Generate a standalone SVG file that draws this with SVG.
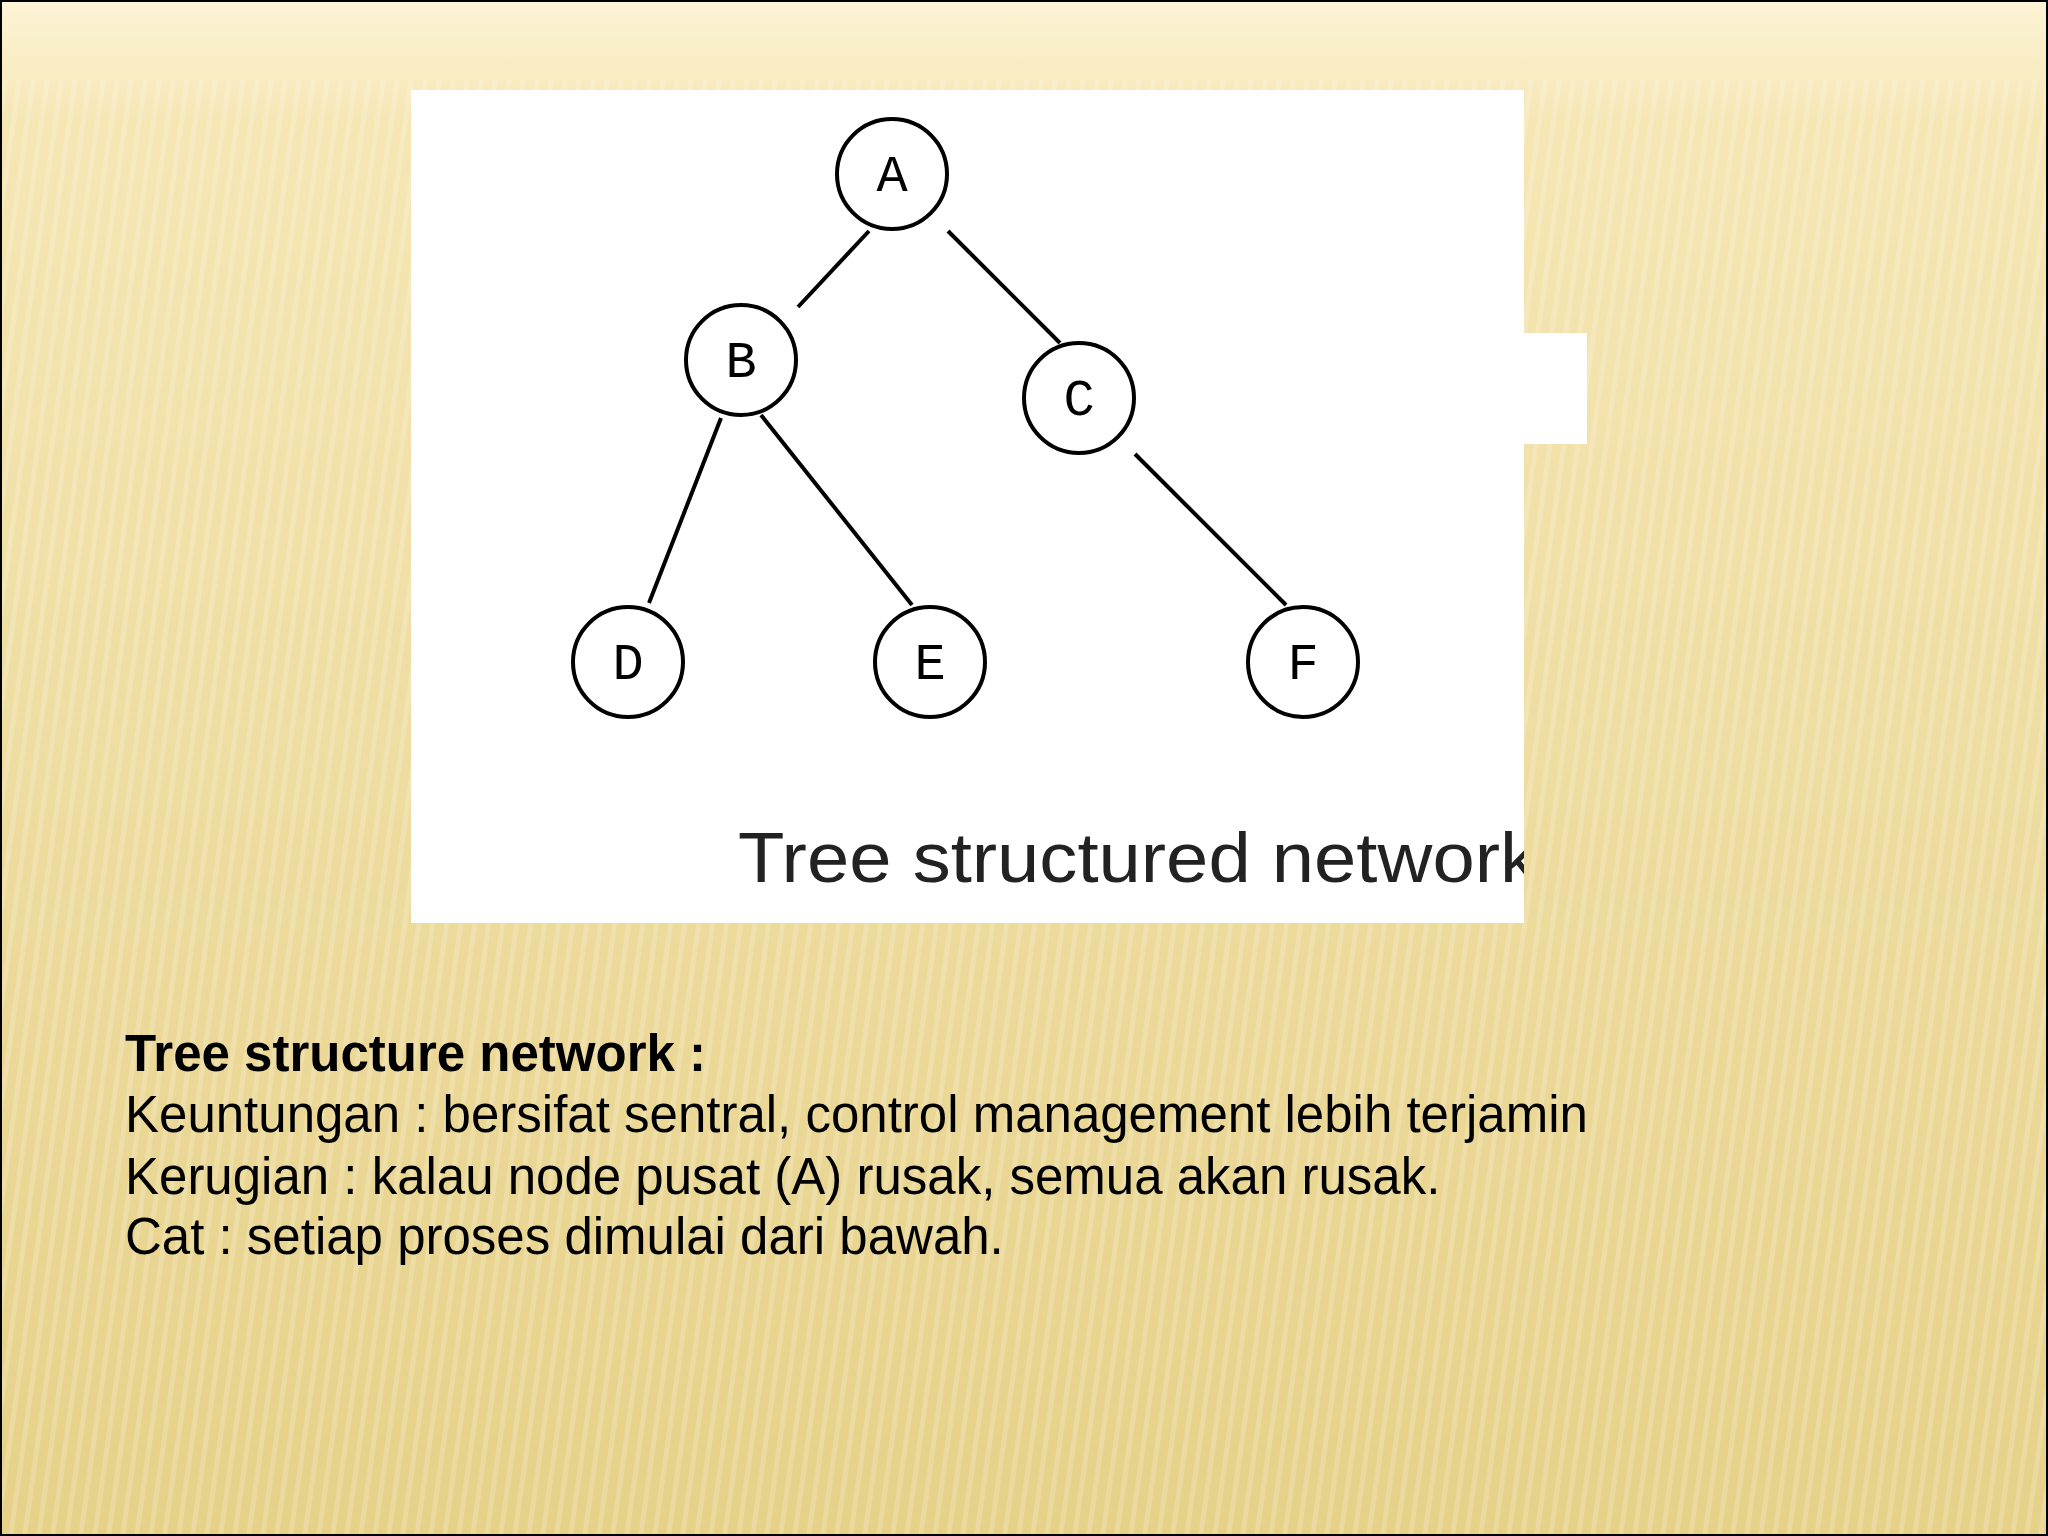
<svg xmlns="http://www.w3.org/2000/svg" width="2048" height="1536" viewBox="0 0 2048 1536">
<defs>
<linearGradient id="bg" x1="0" y1="0" x2="0" y2="1">
<stop offset="0" stop-color="#fdf4d6"/>
<stop offset="0.08" stop-color="#f5e6b4"/>
<stop offset="1" stop-color="#e6d189"/>
</linearGradient>
<pattern id="st" width="14" height="1536" patternUnits="userSpaceOnUse" patternTransform="skewX(-8)">
<rect x="0" y="0" width="5" height="1536" fill="#ffffff" opacity="0.18"/>
</pattern>
<clipPath id="box"><rect x="411" y="90" width="1113" height="833"/></clipPath>
<style>
.n circle{fill:#fff;stroke:#000;stroke-width:4}
.n text{font-family:"Liberation Mono",monospace;font-size:52px;text-anchor:middle;fill:#000}
.e line{stroke:#000;stroke-width:4}
.t{font-family:"Liberation Sans",Arial,sans-serif;font-size:51px;fill:#000}
</style>
</defs>
<rect width="2048" height="1536" fill="url(#bg)"/>
<rect y="80" width="2048" height="1456" fill="url(#st)"/>
<rect x="1" y="1" width="2046" height="1534" fill="none" stroke="#000" stroke-width="2"/>
<rect x="411" y="90" width="1113" height="833" fill="#fff"/>
<rect x="1520" y="333" width="67" height="111" fill="#fff"/>
<g class="e" id="connectors">
<line x1="869" y1="231" x2="798" y2="307"/>
<line x1="948" y1="231" x2="1060" y2="343"/>
<line x1="721" y1="418" x2="649" y2="603"/>
<line x1="761" y1="415" x2="912" y2="605"/>
<line x1="1135" y1="454" x2="1286" y2="605"/>
</g>
<g class="n" id="A"><circle cx="892" cy="174" r="55"/><text x="892" y="191">A</text></g>
<g class="n" id="B"><circle cx="741" cy="360" r="55"/><text x="741" y="377">B</text></g>
<g class="n" id="C"><circle cx="1079" cy="398" r="55"/><text x="1079" y="415">C</text></g>
<g class="n" id="D"><circle cx="628" cy="662" r="55"/><text x="628" y="679">D</text></g>
<g class="n" id="E"><circle cx="930" cy="662" r="55"/><text x="930" y="679">E</text></g>
<g class="n" id="F"><circle cx="1303" cy="662" r="55"/><text x="1303" y="679">F</text></g>
<text clip-path="url(#box)" x="738" y="882" font-family="Liberation Sans,Arial,sans-serif" font-size="70" fill="#222" textLength="800" lengthAdjust="spacingAndGlyphs">Tree structured network</text>
<text class="t" x="125" y="1071" font-weight="bold">Tree structure network :</text>
<text class="t" x="125" y="1132">Keuntungan : bersifat sentral, control management lebih terjamin</text>
<text class="t" x="125" y="1194">Kerugian : kalau node pusat (A) rusak, semua akan rusak.</text>
<text class="t" x="125" y="1254">Cat : setiap proses dimulai dari bawah.</text>
</svg>
